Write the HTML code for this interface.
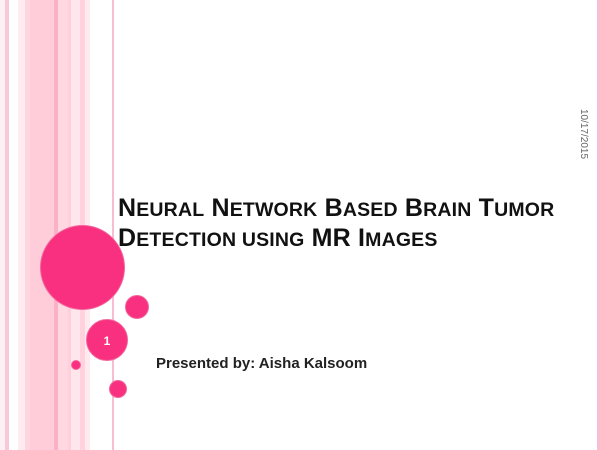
<!DOCTYPE html>
<html><head><meta charset="utf-8"><style>
html,body{margin:0;padding:0;background:#fff}
#p{position:relative;width:600px;height:450px;overflow:hidden;background:#fff;font-family:"Liberation Sans",sans-serif}
.s{position:absolute;top:0;height:450px}
.c{position:absolute;border-radius:50%;background:#f9307f;box-sizing:border-box;border:1px solid #f2659c}
.t{position:absolute;left:118px;font-weight:bold;font-size:25px;line-height:30px;color:#111;white-space:nowrap;letter-spacing:.18px;filter:blur(.3px)}
.t span{font-size:19.5px}
</style></head><body><div id="p">
<div class="s" style="left:0;width:5px;background:#fdf0f4"></div>
<div class="s" style="left:5px;width:4px;background:#f8c8d8"></div>
<div class="s" style="left:18px;width:7px;background:#ffebf0"></div>
<div class="s" style="left:25px;width:5px;background:#ffd6e0"></div>
<div class="s" style="left:30px;width:24px;background:#ffccd9"></div>
<div class="s" style="left:54px;width:4px;background:#fbb0c6"></div>
<div class="s" style="left:58px;width:10px;background:#ffd8e2"></div>
<div class="s" style="left:68px;width:3px;background:#ffd0dc"></div>
<div class="s" style="left:71px;width:9px;background:#ffe6ec"></div>
<div class="s" style="left:80px;width:5px;background:#ffd2dd"></div>
<div class="s" style="left:85px;width:5px;background:#ffeaf0"></div>
<div class="s" style="left:112px;width:2px;background:#f7bdd2"></div>
<div class="s" style="left:597px;width:3px;background:#f7bdd2"></div>
<div class="c" style="left:40px;top:225px;width:85px;height:85px"></div>
<div class="c" style="left:125px;top:295px;width:24px;height:24px"></div>
<div class="c" style="left:86px;top:319px;width:42px;height:42px"></div>
<div class="c" style="left:71px;top:360px;width:10px;height:10px"></div>
<div class="c" style="left:109px;top:380px;width:18px;height:18px"></div>
<div style="position:absolute;left:86px;top:334px;width:42px;text-align:center;color:#fff;font-weight:bold;font-size:12px;line-height:14px">1</div>
<div class="t" style="top:193px">N<span>EURAL</span> N<span>ETWORK</span> B<span>ASED</span> B<span>RAIN</span> T<span>UMOR</span></div>
<div class="t" style="top:223px">D<span>ETECTION USING</span> MR I<span>MAGES</span></div>
<div style="position:absolute;left:156px;top:355px;font-weight:bold;font-size:15px;line-height:18px;color:#222;white-space:nowrap;filter:blur(.3px)">Presented by: Aisha Kalsoom</div>
<div style="position:absolute;left:583px;top:134px;width:0;height:0"><div style="position:absolute;left:-40px;top:-7px;width:80px;height:14px;line-height:14px;text-align:center;font-size:10px;color:#666;transform:rotate(90deg);white-space:nowrap">10/17/2015</div></div>
</div></body></html>
